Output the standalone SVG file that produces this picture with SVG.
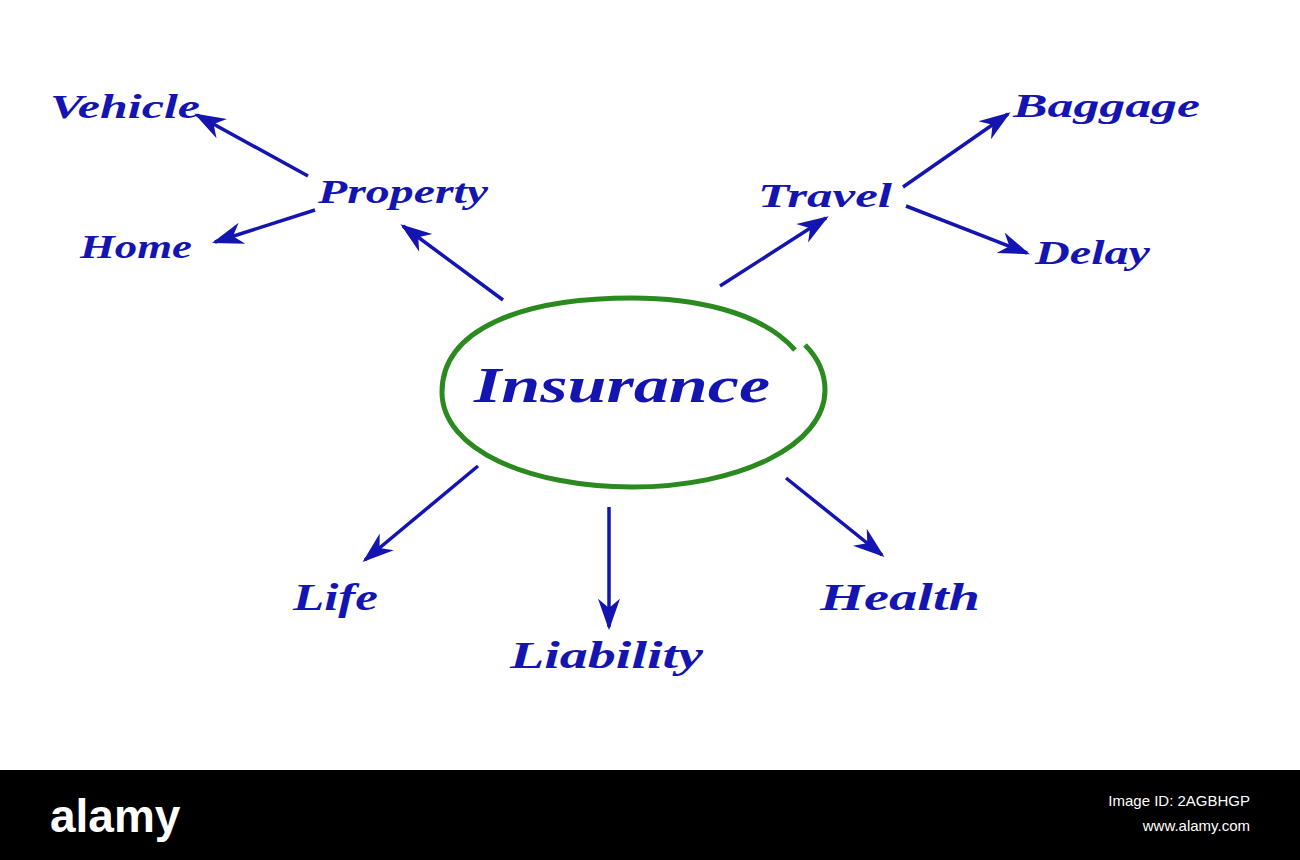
<svg xmlns="http://www.w3.org/2000/svg" width="1300" height="860" viewBox="0 0 1300 860">
<style>
.t{font-family:"Liberation Serif",serif;font-style:italic;font-weight:bold;fill:#1414b0;}
.c line{stroke:#1414b0;stroke-width:3.5;fill:none;}
</style>
<defs>
<marker id="a" viewBox="0 0 20 14" refX="18" refY="7" markerWidth="9" markerHeight="7" markerUnits="strokeWidth" orient="auto">
<path d="M0,0 L20,7 L0,14 L6,7 Z" fill="#1414b0"/>
</marker>
</defs>
<rect width="1300" height="860" fill="#fff"/>
<g id="insurance">
<path d="M795,350 C760,310 690,298 632,298 C520,298 442,330 442,392 C442,450 530,487 632,487 C740,487 825,445 825,390 C825,370 815,355 805,345" fill="none" stroke="#2a8a1f" stroke-width="5"/>
<text class="t" x="474" y="402" font-size="50" textLength="296" lengthAdjust="spacingAndGlyphs">Insurance</text>
</g>
<g id="property"><text class="t" x="318" y="203" font-size="34" textLength="170" lengthAdjust="spacingAndGlyphs">Property</text></g>
<g id="vehicle"><text class="t" x="50" y="118" font-size="34" textLength="150" lengthAdjust="spacingAndGlyphs">Vehicle</text></g>
<g id="home"><text class="t" x="80" y="258" font-size="34" textLength="112" lengthAdjust="spacingAndGlyphs">Home</text></g>
<g id="travel"><text class="t" x="758" y="207" font-size="34" textLength="134" lengthAdjust="spacingAndGlyphs">Travel</text></g>
<g id="baggage"><text class="t" x="1013" y="117" font-size="34" textLength="187" lengthAdjust="spacingAndGlyphs">Baggage</text></g>
<g id="delay"><text class="t" x="1035" y="264" font-size="34" textLength="115" lengthAdjust="spacingAndGlyphs">Delay</text></g>
<g id="life"><text class="t" x="293" y="610" font-size="38" textLength="85" lengthAdjust="spacingAndGlyphs">Life</text></g>
<g id="liability"><text class="t" x="510" y="668" font-size="38" textLength="193" lengthAdjust="spacingAndGlyphs">Liability</text></g>
<g id="health"><text class="t" x="820" y="610" font-size="38" textLength="160" lengthAdjust="spacingAndGlyphs">Health</text></g>
<g class="c" id="connectors">
<line x1="308" y1="176" x2="197" y2="115" marker-end="url(#a)"/>
<line x1="315" y1="210" x2="215" y2="242" marker-end="url(#a)"/>
<line x1="503" y1="300" x2="403" y2="226" marker-end="url(#a)"/>
<line x1="720" y1="286" x2="826" y2="218" marker-end="url(#a)"/>
<line x1="903" y1="187" x2="1008" y2="114" marker-end="url(#a)"/>
<line x1="906" y1="206" x2="1027" y2="253" marker-end="url(#a)"/>
<line x1="478" y1="466" x2="365" y2="560" marker-end="url(#a)"/>
<line x1="609" y1="507" x2="609" y2="627" marker-end="url(#a)"/>
<line x1="786" y1="478" x2="882" y2="555" marker-end="url(#a)"/>
</g>
<rect x="0" y="770" width="1300" height="90" fill="#000"/>
<text x="50" y="832" font-family="Liberation Sans,sans-serif" font-weight="bold" font-size="46" fill="#fff">alamy</text>
<text x="1250" y="806" text-anchor="end" font-family="Liberation Sans,sans-serif" font-size="15" fill="#fff">Image ID: 2AGBHGP</text>
<text x="1250" y="831" text-anchor="end" font-family="Liberation Sans,sans-serif" font-size="15" fill="#fff">www.alamy.com</text>
</svg>
